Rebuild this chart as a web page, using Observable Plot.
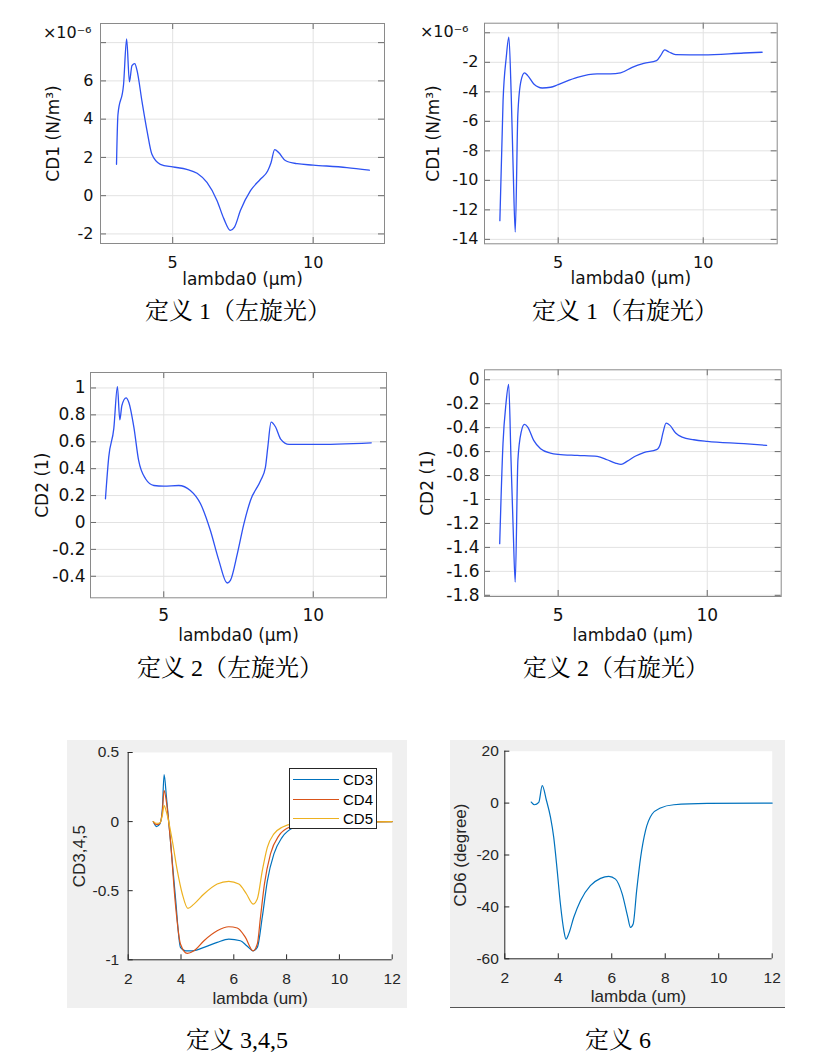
<!DOCTYPE html>
<html><head><meta charset="utf-8">
<script src="https://cdn.jsdelivr.net/npm/d3@7"></script>
<script src="https://cdn.jsdelivr.net/npm/@observablehq/plot@0.6"></script>
<style>
body{margin:0;background:#fff;}
#root{position:relative;width:838px;height:1064px;overflow:hidden;background:#fff;}
.panel{position:absolute;}
.panel svg{overflow:visible;}
.cap{position:absolute;width:320px;text-align:center;font-size:24px;line-height:28px;font-family:"Liberation Serif","Noto Serif CJK SC","Noto Sans CJK SC",serif;color:#000;}
.legend{position:absolute;background:#fff;border:1px solid #262626;font-family:"Liberation Sans",Arial,sans-serif;font-size:15px;color:#000;}
.legend .row{position:absolute;left:0;height:18px;}
.legend .sw{position:absolute;left:3px;width:46px;top:8px;height:0;border-top:1.5px solid;}
.legend .lb{position:absolute;left:53px;top:0;line-height:18px;}
</style></head><body><div id="root"></div>
<script>
// ---------- data ----------
// 定义 1（左旋光）  CD1 ×1e-6 N/m³
const lambdaA = [3.0,3.05,3.25,3.36,3.46,3.55,3.65,3.73,3.91,4.09,4.26,4.56,5.0,5.5,5.87,6.22,6.58,6.82,7.05,7.2,7.41,7.77,8.12,8.38,8.5,8.63,8.78,9.01,9.43,10.0,11.2,12.0];
const cd1Left = [1.64,4.22,5.8,8.19,5.95,6.8,6.9,6.55,4.9,3.36,2.16,1.64,1.5,1.38,1.17,0.69,-0.26,-1.2,-1.81,-1.64,-0.78,0.26,0.86,1.29,1.72,2.41,2.24,1.84,1.67,1.6,1.47,1.33];
// 定义 1（右旋光）
const lambdaB = [2.99,3.1,3.21,3.3,3.38,3.45,3.52,3.61,3.72,3.84,3.95,4.16,4.45,4.74,5.0,5.66,6.34,6.8,7.15,7.55,7.95,8.39,8.53,8.67,8.82,9.05,10.0,11.4,12.03];
const cd1Right = [-12.73,-4.6,-1.66,-0.3,-4.15,-9.34,-13.5,-5.5,-3.24,-2.72,-2.9,-3.47,-3.74,-3.69,-3.51,-3.02,-2.79,-2.79,-2.72,-2.34,-2.07,-1.89,-1.55,-1.16,-1.3,-1.48,-1.5,-1.37,-1.32];
// 定义 2（左旋光）
const lambdaC = [3.05,3.16,3.33,3.45,3.53,3.6,3.74,3.83,4.0,4.16,4.39,4.67,5.0,5.5,5.89,6.23,6.56,6.84,7.12,7.23,7.46,7.68,7.9,8.24,8.4,8.48,8.59,8.74,8.91,9.19,10.0,11.94];
const cd2Left = [0.176,0.486,0.7,1.01,0.763,0.87,0.927,0.894,0.709,0.461,0.325,0.275,0.27,0.275,0.238,0.139,-0.06,-0.28,-0.45,-0.43,-0.233,-0.01,0.164,0.312,0.41,0.56,0.746,0.71,0.62,0.58,0.58,0.592];
// 定义 2（右旋光）
const lambdaD = [3.04,3.15,3.25,3.34,3.42,3.49,3.56,3.65,3.76,3.87,3.98,4.18,4.41,4.74,5.0,5.64,6.31,6.64,6.92,7.11,7.32,7.6,7.87,8.3,8.43,8.52,8.62,8.75,8.94,9.16,9.55,10.0,11.23,11.99];
const cd2Right = [-1.369,-0.534,-0.2,-0.039,-0.673,-1.23,-1.69,-0.673,-0.437,-0.373,-0.395,-0.506,-0.576,-0.612,-0.623,-0.632,-0.64,-0.668,-0.696,-0.707,-0.68,-0.637,-0.609,-0.584,-0.534,-0.437,-0.362,-0.381,-0.445,-0.479,-0.501,-0.515,-0.534,-0.548];
// 定义 3,4,5
const lambdaCD3 = [2.95,3.07,3.2,3.29,3.36,3.45,3.6,3.79,3.98,4.17,4.42,4.87,5.37,5.81,6.25,6.5,6.73,6.89,7.08,7.27,7.52,7.83,8.28,8.9,10.17,12];
const cd3 = [0,-0.036,-0.017,0.08,0.34,0.176,-0.138,-0.55,-0.91,-0.935,-0.935,-0.91,-0.874,-0.85,-0.862,-0.9,-0.935,-0.91,-0.69,-0.43,-0.234,-0.114,-0.041,-0.012,-0.002,0];
const lambdaCD4 = [2.95,3.07,3.2,3.29,3.36,3.45,3.6,3.79,3.98,4.24,4.49,4.87,5.37,5.81,6.13,6.44,6.73,6.89,7.01,7.16,7.39,7.71,8.15,8.9,12];
const cd4 = [0,-0.022,-0.012,0.068,0.225,0.14,-0.138,-0.6,-0.886,-0.954,-0.935,-0.862,-0.79,-0.761,-0.77,-0.838,-0.935,-0.886,-0.693,-0.452,-0.234,-0.101,-0.036,-0.007,0];
const lambdaCD5 = [2.95,3.07,3.2,3.29,3.36,3.45,3.67,3.86,4.05,4.26,4.49,4.87,5.37,5.81,6.19,6.48,6.73,6.89,7.08,7.27,7.52,7.83,8.28,12];
const cd5 = [0,-0.012,-0.01,0.043,0.116,0.068,-0.138,-0.355,-0.524,-0.628,-0.597,-0.524,-0.452,-0.432,-0.452,-0.524,-0.597,-0.56,-0.355,-0.186,-0.089,-0.041,-0.017,0];
// 定义 6
const lambdaCD6 = [2.99,3.11,3.27,3.4,3.56,3.71,3.83,3.96,4.08,4.21,4.29,4.39,4.58,4.83,5.2,5.58,5.89,6.14,6.39,6.6,6.7,6.8,6.93,7.08,7.26,7.51,7.82,8.32,9.57,12];
const cd6 = [0.4,-0.64,0.26,6.7,0.9,-5.5,-13.2,-26,-38.9,-49.2,-52.4,-50.4,-44,-37.6,-31.8,-29,-28.2,-29.3,-35,-44,-47.9,-46.6,-33.8,-20.9,-10.7,-4.2,-1.9,-0.64,-0.13,0];

// tick values
const ticksX510 = [5, 10];
const ticksP1Y = [-2, 0, 2, 4, 6, 8];
const labelsP1Y = [-2, 0, 2, 4, 6];
const ticksP2Y = [-14, -12, -10, -8, -6, -4, -2, 0];
const labelsP2Y = [-14, -12, -10, -8, -6, -4, -2];
const ticksP3Y = [-0.4, -0.2, 0, 0.2, 0.4, 0.6, 0.8, 1];
const ticksP4Y = [-1.8, -1.6, -1.4, -1.2, -1, -0.8, -0.6, -0.4, -0.2, 0];
const ticksMX = [2, 4, 6, 8, 10, 12];
const ticksP5Y = [-1, -0.5, 0, 0.5];
const ticksP6Y = [-60, -40, -20, 0, 20];
const seriesNames = ["CD3", "CD4", "CD5"];
const seriesColors = ["#0072BD", "#D95319", "#EDB120"];

const captions = ["定义 1（左旋光）", "定义 1（右旋光）", "定义 2（左旋光）", "定义 2（右旋光）", "定义 3,4,5", "定义 6"];

// ---------- helpers ----------
const root = document.getElementById("root");
const fmt = d => d3.format("~g")(d).replace("\u2212", "-");
const zip = (xs, ys) => xs.map((x, i) => ({x, y: ys[i]}));

function place(node, left, top) {
  const div = document.createElement("div");
  div.className = "panel";
  div.style.left = left + "px";
  div.style.top = top + "px";
  div.appendChild(node);
  root.appendChild(div);
  return div;
}

function comsolPanel(o) {
  const fw = o.W - o.ml - o.mr, fh = o.H - o.mt - o.mb;
  const ink = "#111", tk = "#6a6a6a";
  const marks = [
    Plot.gridX(o.xt, {stroke: "#e2e2e2", strokeOpacity: 1}),
    Plot.gridY(o.yt, {stroke: "#e2e2e2", strokeOpacity: 1}),
    Plot.line(zip(o.xs, o.ys), {x: "x", y: "y", stroke: "#2e52f2", strokeWidth: 1.3, curve: "monotone-x"}),
    Plot.tickY(o.yt, {y: d => d, insetRight: fw - 6, stroke: tk}),
    Plot.tickY(o.yt, {y: d => d, insetLeft: fw - 6, stroke: tk}),
    Plot.tickX(o.xt, {x: d => d, insetTop: fh - 6, stroke: tk}),
    Plot.tickX(o.xt, {x: d => d, insetBottom: fh - 6, stroke: tk}),
    Plot.frame({stroke: "#8a8a8a"}),
    Plot.axisX(o.xt, {tickSize: 0, tickPadding: o.xpad, tickFormat: fmt, fontSize: o.tf, fill: ink, label: null}),
    Plot.axisY(o.ylt, {tickSize: 0, tickPadding: o.ypad, tickFormat: fmt, fontSize: o.tf, fill: ink, label: null}),
    Plot.text([o.ylabel], {text: d => d, frameAnchor: "left", dx: o.ylx, rotate: -90, textAnchor: "middle", lineAnchor: "middle", fontSize: o.lf, fill: ink}),
    Plot.text([o.xlabel], {text: d => d, frameAnchor: "bottom", dy: o.xly, textAnchor: "middle", lineAnchor: "middle", fontSize: o.lf, fill: ink})
  ];
  if (o.exp) marks.push(Plot.text([o.exp], {text: d => d, frameAnchor: "top-left", dx: o.expdx, dy: 14, textAnchor: "end", lineAnchor: "bottom", fontSize: o.tf, fill: ink}));
  const svg = Plot.plot({
    width: o.W, height: o.H,
    marginLeft: o.ml, marginRight: o.mr, marginTop: o.mt, marginBottom: o.mb,
    style: {fontFamily: "DejaVu Sans", fontSize: o.tf + "px", background: "transparent", color: ink, overflow: "visible"},
    x: {domain: o.xd}, y: {domain: o.yd},
    marks
  });
  place(svg, o.left, o.top);
}

function matlabPanel(o) {
  const fw = o.W - o.ml - o.mr, fh = o.H - o.mt - o.mb;
  const ink = "#262626";
  const marks = [
    Plot.frame({fill: "white", stroke: null}),
    ...o.series.map(s => Plot.line(zip(s.xs, s.ys), {x: "x", y: "y", stroke: s.color, strokeWidth: 1.2, curve: "monotone-x"})),
    Plot.ruleX([o.xd[0]], {stroke: ink}),
    Plot.ruleY([o.yd[0]], {stroke: ink}),
    Plot.tickY(o.yt, {y: d => d, insetRight: fw - 5, stroke: ink}),
    Plot.tickX(o.xt, {x: d => d, insetTop: fh - 5, stroke: ink}),
    Plot.axisX(o.xt, {tickSize: 0, tickPadding: o.xpad, tickFormat: fmt, fontSize: o.tf, fill: ink, label: null}),
    Plot.axisY(o.yt, {tickSize: 0, tickPadding: o.ypad, tickFormat: fmt, fontSize: o.tf, fill: ink, label: null}),
    Plot.text([o.ylabel], {text: d => d, frameAnchor: "left", dx: o.ylx, rotate: -90, textAnchor: "middle", lineAnchor: "middle", fontSize: o.lf, fill: ink}),
    Plot.text([o.xlabel], {text: d => d, frameAnchor: "bottom", dy: o.xly, textAnchor: "middle", lineAnchor: "middle", fontSize: o.lf, fill: ink})
  ];
  const svg = Plot.plot({
    width: o.W, height: o.H,
    marginLeft: o.ml, marginRight: o.mr, marginTop: o.mt, marginBottom: o.mb,
    style: {fontFamily: "Liberation Sans", fontSize: o.tf + "px", background: "#f0f0f0", color: ink},
    x: {domain: o.xd}, y: {domain: o.yd},
    marks
  });
  const div = place(svg, o.left, o.top);
  if (o.borderBottom) div.style.borderBottom = "1px solid #555";
}

// ---------- panels ----------
comsolPanel({left: 0, top: 0, W: 400, H: 300, ml: 100, mr: 16, mt: 23, mb: 57,
  xs: lambdaA, ys: cd1Left, xd: [2.43, 12.54], yd: [-2.5, 9], xt: ticksX510, yt: ticksP1Y, ylt: labelsP1Y,
  ylabel: "CD1 (N/m³)", xlabel: "lambda0 (μm)", exp: "×10⁻⁶", expdx: -9,
  tf: 16, lf: 17, ypad: 7, xpad: 13, ylx: -47, xly: 36});

comsolPanel({left: 400, top: 0, W: 400, H: 300, ml: 84, mr: 23.3, mt: 22.7, mb: 56.7,
  xs: lambdaB, ys: cd1Right, xd: [2.46, 12.55], yd: [-14.3, 0.65], xt: ticksX510, yt: ticksP2Y, ylt: labelsP2Y,
  ylabel: "CD1 (N/m³)", xlabel: "lambda0 (μm)", exp: "×10⁻⁶", expdx: -16,
  tf: 16, lf: 17, ypad: 6, xpad: 13, ylx: -51, xly: 35});

comsolPanel({left: 0, top: 340, W: 400, H: 310, ml: 90, mr: 14, mt: 32, mb: 52.7,
  xs: lambdaC, ys: cd2Left, xd: [2.55, 12.45], yd: [-0.56, 1.115], xt: ticksX510, yt: ticksP3Y, ylt: ticksP3Y,
  ylabel: "CD2 (1)", xlabel: "lambda0 (μm)",
  tf: 17, lf: 17, ypad: 5, xpad: 11, ylx: -48, xly: 38});

comsolPanel({left: 400, top: 340, W: 400, H: 310, ml: 84, mr: 19.3, mt: 29.3, mb: 54,
  xs: lambdaD, ys: cd2Right, xd: [2.53, 12.48], yd: [-1.81, 0.083], xt: ticksX510, yt: ticksP4Y, ylt: ticksP4Y,
  ylabel: "CD2 (1)", xlabel: "lambda0 (μm)",
  tf: 17, lf: 17, ypad: 5, xpad: 12, ylx: -57, xly: 39});

matlabPanel({left: 67, top: 740, W: 340, H: 268, ml: 60.7, mr: 15.3, mt: 12, mb: 48.7,
  series: [
    {xs: lambdaCD3, ys: cd3, color: seriesColors[0]},
    {xs: lambdaCD4, ys: cd4, color: seriesColors[1]},
    {xs: lambdaCD5, ys: cd5, color: seriesColors[2]}
  ],
  xd: [2, 12], yd: [-1, 0.5], xt: ticksMX, yt: ticksP5Y,
  ylabel: "CD3,4,5", xlabel: "lambda (um)",
  tf: 15.5, lf: 17, ypad: 9, xpad: 13, ylx: -49, xly: 39});

matlabPanel({left: 450, top: 740, W: 335, H: 267, ml: 54.3, mr: 13.3, mt: 10.7, mb: 48.7,
  series: [{xs: lambdaCD6, ys: cd6, color: seriesColors[0]}],
  xd: [2, 12], yd: [-60, 20], xt: ticksMX, yt: ticksP6Y,
  ylabel: "CD6 (degree)", xlabel: "lambda (um)",
  tf: 15.5, lf: 17, ypad: 6, xpad: 13, ylx: -44, xly: 38, borderBottom: true});

// legend for 定义 3,4,5
const leg = document.createElement("div");
leg.className = "legend";
Object.assign(leg.style, {left: "289px", top: "768px", width: "86px", height: "59px"});
seriesNames.forEach((name, i) => {
  const row = document.createElement("div");
  row.className = "row";
  row.style.top = (2 + i * 19.7) + "px";
  row.style.width = "86px";
  const sw = document.createElement("div");
  sw.className = "sw";
  sw.style.borderTopColor = seriesColors[i];
  const lb = document.createElement("div");
  lb.className = "lb";
  lb.textContent = name;
  row.appendChild(sw); row.appendChild(lb);
  leg.appendChild(row);
});
root.appendChild(leg);

// captions
const capPos = [[238, 311], [625, 311], [230, 668], [616, 668], [237, 1040], [618, 1040]];
captions.forEach((t, i) => {
  const c = document.createElement("div");
  c.className = "cap";
  c.textContent = t;
  c.style.left = (capPos[i][0] - 160) + "px";
  c.style.top = (capPos[i][1] - 14) + "px";
  root.appendChild(c);
});
</script></body></html>
